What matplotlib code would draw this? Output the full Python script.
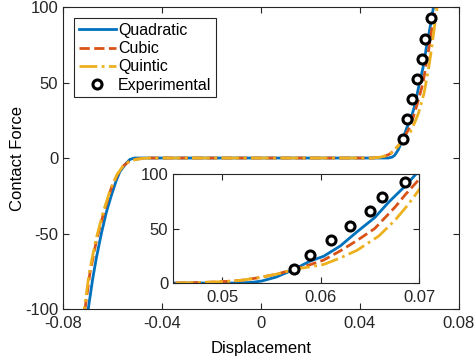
import numpy as np
import matplotlib.pyplot as plt

plt.rcParams['font.family'] = ['Liberation Sans', 'DejaVu Sans']
plt.rcParams['axes.unicode_minus'] = False

# curves (displacement, contact force)
quad_x = [-0.0705, -0.0698, -0.0680, -0.0665, -0.0645, -0.0625, -0.0605, -0.0585,
          -0.0570, -0.0545, -0.0530, -0.0512, 0.0, 0.0515, 0.0530, 0.0540, 0.0555,
          0.0573, 0.0589, 0.0603, 0.0620, 0.0637, 0.0655, 0.0669, 0.0686, 0.0698, 0.0705]
quad_y = [-110, -100, -80, -66, -50, -36, -25, -15,
          -9, -3.5, -1, 0, 0, 0, 0.6, 1.8, 5.5,
          12.5, 20, 24.5, 34, 47, 60, 74, 89, 101, 110]

cubic_x = [-0.0718, -0.0711, -0.0691, -0.0664, -0.0635, -0.0605, -0.0580, -0.0555,
           -0.0530, -0.0500, -0.0470, -0.0450, 0.0, 0.0450, 0.0480, 0.0505, 0.0520,
           0.0538, 0.0557, 0.0573, 0.0590, 0.0603, 0.0620, 0.0637, 0.0655, 0.0676,
           0.0686, 0.0698, 0.0705, 0.0710]
cubic_y = [-110, -100, -76, -54, -36, -20, -11, -5,
           -2, -0.7, -0.2, 0, 0, 0, 0.5, 1.5, 2.6,
           5, 8.5, 12.5, 17, 21, 29.5, 39, 50, 70,
           81, 93, 101, 108]

quint_x = [-0.0722, -0.0714, -0.0694, -0.0667, -0.0638, -0.0607, -0.0582, -0.0556,
           -0.0530, -0.0500, -0.0470, -0.0450, 0.0, 0.0450, 0.0480, 0.0505, 0.0520,
           0.0538, 0.0557, 0.0573, 0.0590, 0.0603, 0.0620, 0.0637, 0.0659, 0.0676,
           0.0689, 0.0698, 0.0705, 0.0713, 0.0720]
quint_y = [-110, -100, -76, -54, -36, -20, -11, -5,
           -2, -0.7, -0.2, 0, 0, 0, 0.5, 1.5, 2.6,
           5, 8.5, 12.5, 15, 17, 23, 30, 43, 58,
           72, 83, 92, 102, 112]

exp_x = [0.0573, 0.0589, 0.0611, 0.0630, 0.0650, 0.0662, 0.0686]
exp_y = [12.8, 26.0, 39.4, 52.6, 65.8, 78.9, 92.4]

blue = '#0072BD'
red = '#D95319'
yellow = '#EDB120'


def draw(ax):
    ax.plot(quad_x, quad_y, '-', color=blue, lw=2.0, label='Quadratic')
    ax.plot(cubic_x, cubic_y, '--', color=red, lw=2.0, label='Cubic')
    ax.plot(quint_x, quint_y, '-.', color=yellow, lw=2.0, label='Quintic')
    ax.plot(exp_x, exp_y, 'o', mfc='white', mec='black', mew=2.2, ms=6.5,
            ls='none', label='Experimental')
    ax.tick_params(direction='in', top=True, right=True, labelsize=12,
                   colors='#262626', length=4)
    ax.tick_params(axis='x', pad=5)
    for s in ax.spines.values():
        s.set_color('#262626')
        s.set_linewidth(0.8)


fig = plt.figure(figsize=(4.74, 3.61), dpi=100)
ax = fig.add_axes([0.1329, 0.144, 0.8354, 0.8366])
draw(ax)
ax.set_xlim(-0.08, 0.08)
ax.set_ylim(-100, 100)
ax.set_xticks([-0.08, -0.04, 0, 0.04, 0.08])
ax.set_xticklabels(['-0.08', '-0.04', '0', '0.04', '0.08'])
ax.set_yticks([-100, -50, 0, 50, 100])
ax.set_xlabel('Displacement', fontsize=12, labelpad=7)
ax.set_ylabel('Contact Force', fontsize=12, labelpad=0)
leg = ax.legend(loc='upper left', fontsize=11.5, handlelength=2.3, handletextpad=0.15,
                labelspacing=0.2, borderpad=0.3, fancybox=False, framealpha=1,
                edgecolor='#262626', borderaxespad=0.7)
leg.get_frame().set_linewidth(0.8)

ins = fig.add_axes([0.365, 0.216, 0.519, 0.302])
draw(ins)
ins.set_xlim(0.045, 0.07)
ins.set_ylim(0, 100)
ins.set_xticks([0.05, 0.06, 0.07])
ins.set_xticklabels(['0.05', '0.06', '0.07'])
ins.set_yticks([0, 50, 100])

fig.savefig('out.png', dpi=100)
